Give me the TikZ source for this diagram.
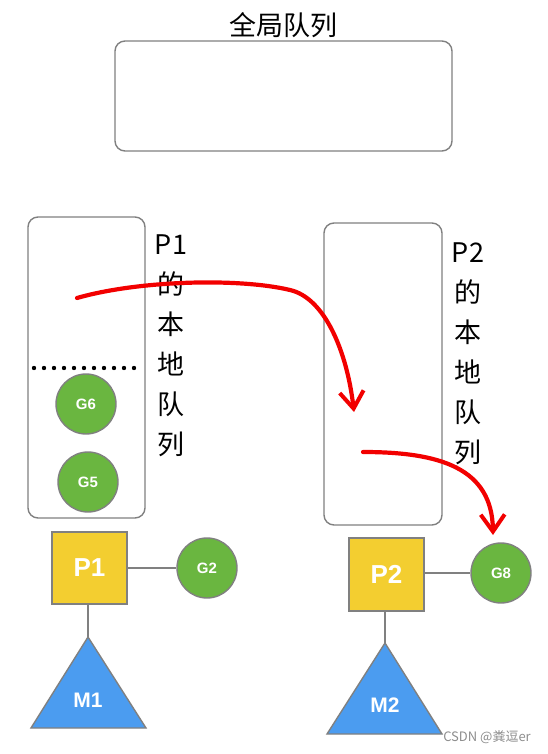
\documentclass[tikz,border=0pt]{standalone}
\usepackage{fontspec}
\setmainfont{Liberation Sans}
\newfontfamily\cjk{Noto Sans CJK SC}
\usetikzlibrary{arrows.meta}
\definecolor{gfill}{RGB}{106,182,64}
\definecolor{bfill}{RGB}{75,156,240}
\definecolor{yfill}{RGB}{243,206,48}
\definecolor{edge}{RGB}{128,128,128}
\definecolor{redink}{RGB}{242,0,0}
\tikzset{
  qbox/.style={draw=edge, line width=1.4pt, rounded corners=10pt, inner sep=0pt},
  gnode/.style={circle, draw=edge, line width=1.4pt, fill=gfill, minimum size=60pt, inner sep=0pt, text=white, font=\bfseries\fontsize{15}{17}\selectfont},
  pnode/.style={rectangle, draw=edge, line width=1.4pt, fill=yfill, inner sep=0pt, text=white, font=\bfseries\fontsize{26}{30}\selectfont},
  tri/.style={draw=edge, line width=1.4pt, fill=bfill, line join=miter},
  mlabel/.style={text=white, font=\bfseries\fontsize{21}{24}\selectfont},
  link/.style={draw=edge, line width=1.4pt},
  vlabel/.style={align=center, inner sep=0pt, font=\cjk\fontsize{27}{40}\selectfont},
  redpath/.style={draw=redink, line width=4.2pt, line cap=round, line join=round},
  redtip/.style={-{Straight Barb[length=17pt,width=24pt,line width=4pt]}},
}
\begin{document}
\begin{tikzpicture}[x=1pt,y=-1pt]
\useasboundingbox (0,0) rectangle (548,754);
% global queue
\node[font=\cjk\fontsize{27}{30}\selectfont, inner sep=0pt] (gtitle) at (283,25) {全局队列};
\node[qbox, minimum width=337pt, minimum height=110pt] (gq) at (283.5,96) {};
% P1 local queue
\node[qbox, minimum width=117pt, minimum height=301pt] (lq1) at (86.5,367.5) {};
\node[vlabel] (lab1) at (171,346) {P1\\的\\本\\地\\队\\列};
\coordinate (dl) at (34,368);
\coordinate (dr) at (134.5,368);
\draw[line width=4.4pt, line cap=round, dash pattern=on 0pt off 10pt] (dl) -- (dr);
\node[gnode] (g6) at (86,404) {G6};
\node[gnode] (g5) at (88,482) {G5};
% P2 local queue
\node[qbox, minimum width=118pt, minimum height=302pt] (lq2) at (383,374) {};
\node[vlabel] (lab2) at (468,354) {P2\\的\\本\\地\\队\\列};
% P1 / G2 / M1
\node[pnode, minimum width=75pt, minimum height=72pt] (p1) at (89.5,568) {P1};
\node[gnode] (g2) at (207,568) {G2};
\draw[link] (g2.west -| p1.east) -- (g2.west);
\coordinate (m1top) at (88,637);
\coordinate (m1l) at (31,728);
\coordinate (m1r) at (146,728);
\draw[link] (p1.south -| m1top) -- (m1top);
\draw[tri] (m1top) -- (m1r) -- (m1l) -- cycle;
\node[mlabel] (m1) at (88,700) {M1};
% P2 / G8 / M2
\node[pnode, minimum width=75pt, minimum height=73pt] (p2) at (386.5,574.5) {P2};
\node[gnode] (g8) at (501,573) {G8};
\draw[link] (g8.west -| p2.east) -- (g8.west);
\coordinate (m2top) at (385,643);
\coordinate (m2l) at (327,734);
\coordinate (m2r) at (442,734);
\draw[link] (p2.south -| m2top) -- (m2top);
\draw[tri] (m2top) -- (m2r) -- (m2l) -- cycle;
\node[mlabel] (m2) at (385,705) {M2};
% red hand-drawn arrows
\coordinate (r1s) at (77,298);
\coordinate (r1m) at (290,290);
\coordinate (r1e) at (354,412);
\draw[redpath, redtip] (r1s) .. controls (140,280) and (240,278) .. (r1m) .. controls (325,298) and (347,352) .. (r1e);
\coordinate (r2s) at (363,452);
\coordinate (r2e) at (493,535);
\draw[redpath, redtip] (r2s) .. controls (440,452) and (492,468) .. (r2e);
% watermark
\node[text=edge!90, font=\cjk\fontsize{13}{15}\selectfont, inner sep=0pt] (wm) at (487,737) {CSDN @粪逗er};
\end{tikzpicture}
\end{document}
